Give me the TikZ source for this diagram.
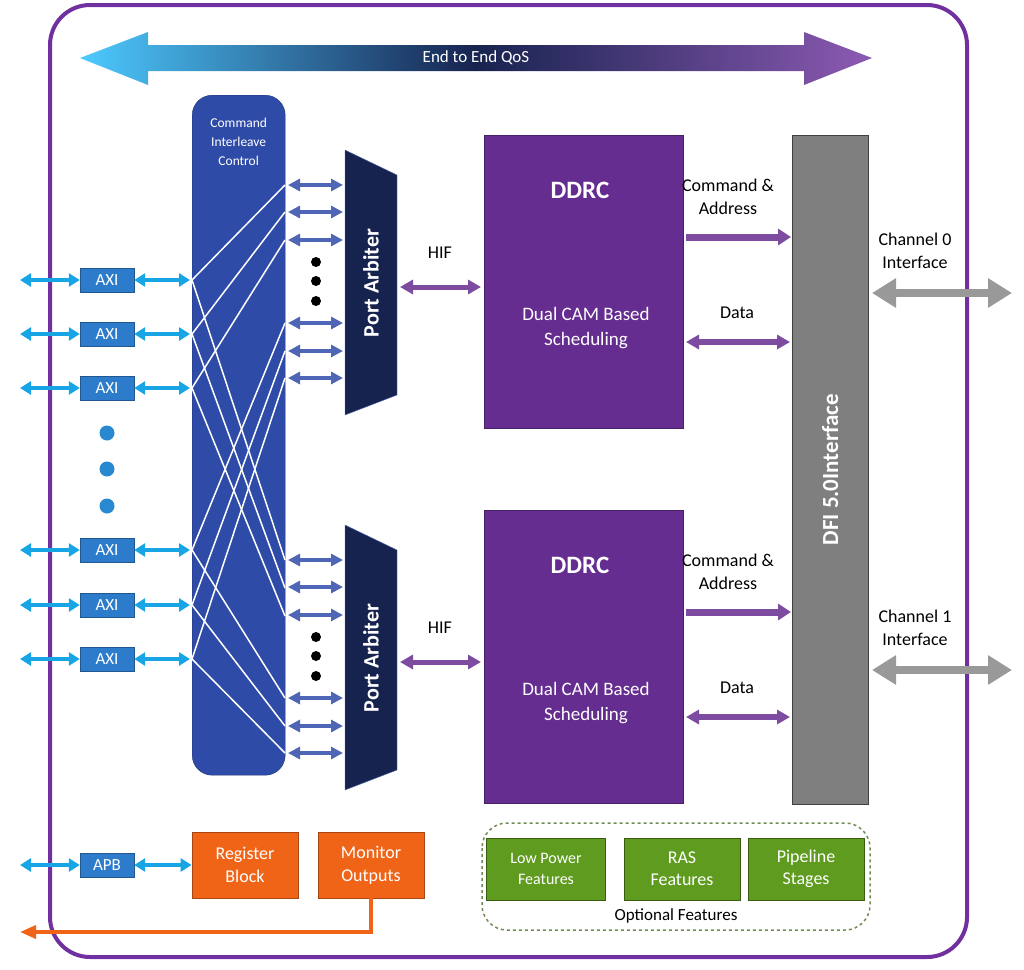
\documentclass[tikz,border=0pt]{standalone}
\usepackage{fontspec}
\setmainfont{Carlito}
\usetikzlibrary{positioning, arrows.meta, shapes, backgrounds, fit}
\definecolor{frame}{HTML}{7030A0}
\definecolor{cicblue}{HTML}{2F4BA8}
\definecolor{navy}{HTML}{17234F}
\definecolor{axiblue}{HTML}{2D7CCB}
\definecolor{cyanarr}{HTML}{17A5E6}
\definecolor{ddrc}{HTML}{662D91}
\definecolor{orng}{HTML}{F06418}
\definecolor{grn}{HTML}{5E9B1E}
\definecolor{dfigray}{HTML}{7F7F7F}
\begin{document}
\begin{tikzpicture}[
    x=1pt, y=-1pt,
    every node/.style={align=center, font=\fontsize{14}{16}\selectfont},
    axi/.style={fill=axiblue, draw=axiblue!70!black, minimum width=54pt, minimum height=24pt, inner sep=0pt, text=white, font=\fontsize{17}{19}\selectfont},
    ddrcbox/.style={fill=ddrc, draw=ddrc!70!black, minimum width=199pt, minimum height=293pt, anchor=north west, inner sep=0pt},
    feature/.style={fill=grn, draw=grn!60!black, thick, minimum width=116pt, minimum height=62pt, text=white, font=\fontsize{17}{21}\selectfont},
    regbox/.style={fill=orng, draw=orng!70!black, thick, minimum width=106pt, minimum height=66pt, text=white, font=\fontsize{18}{23}\selectfont},
    busarrow/.style={{Triangle[width=13pt,length=11pt]}-{Triangle[width=13pt,length=11pt]}, line width=4pt, cyanarr},
    portarrow/.style={{Triangle[width=12pt,length=12pt]}-{Triangle[width=12pt,length=12pt]}, line width=4pt, cicblue!85},
    hifarrow/.style={{Triangle[width=14pt,length=13pt]}-{Triangle[width=14pt,length=13pt]}, line width=5pt, ddrc!85},
    cmdarrow/.style={-{Triangle[width=16pt,length=13pt]}, line width=7pt, ddrc!85},
    chanarrow/.style={{Triangle[width=28pt,length=24pt]}-{Triangle[width=28pt,length=24pt]}, line width=8pt, gray!80},
    cross/.style={white, line width=1.5pt}
]
\useasboundingbox (0,0) rectangle (1024,969);

% Outer frame
\draw[frame, line width=4pt, rounded corners=40pt] (50,5) rectangle (967,957);

% End to end QoS
\shade[left color=cyan!70!blue!70, right color=frame!80!white, middle color=navy]
  (80,58) -- (148,32) -- (148,45) -- (804,45) -- (804,32) -- (872,58)
  -- (804,85) -- (804,71) -- (148,71) -- (148,85) -- cycle;
\node[text=white, font=\fontsize{17}{19}\selectfont] (qos) at (476,58) {End to End QoS};

% Command interleave control
\node[fill=cicblue, draw=cicblue!70!black, rounded corners=20pt, minimum width=93pt, minimum height=680pt, anchor=north west, inner sep=0pt] (cic) at (192,95) {};
\node[text=white, font=\fontsize{13.5}{19}\selectfont, below=20pt of cic.north] {Command\\Interleave\\Control};

% Port arbiters
\foreach \n/\dy in {top/0, bot/375} {
  \fill[navy, draw=cicblue!80] (345,150+\dy) -- (397,175+\dy) -- (397,395+\dy) -- (345,415+\dy) -- cycle;
  \node[rotate=90, text=white, font=\bfseries\fontsize{22}{24}\selectfont] (arb\n) at (371,283+\dy) {Port Arbiter};
  \foreach \y in {185,212,240,323,351,378}
    \draw[portarrow] (288,\y+\dy) -- (343,\y+\dy);
  \foreach \y in {262,281,301}
    \fill (316,\y+\dy) circle (5pt);
}
\coordinate (arbtopin) at (400,287);
\coordinate (arbbotin) at (400,662);

% AXI ports
\foreach \i/\y/\pt/\pb in {1/280/185/560, 2/334/212/588, 3/388/240/616, 4/550/323/698, 5/605/351/726, 6/659/378/753} {
  \node[axi] (axi\i) at (107,\y) {AXI};
  \coordinate (axiL\i) at (20,\y);
  \coordinate (axiR\i) at (190,\y);
  \draw[busarrow] (axiL\i) -- (axi\i);
  \draw[busarrow] (axi\i) -- (axiR\i);
  \draw[cross] (192,\y) -- (285,\pt);
  \draw[cross] (192,\y) -- (285,\pb);
}
\foreach \y in {433,469,506}
  \fill[axiblue!90!cyan] (107,\y) circle (7.5pt);

% DDRC controllers
\foreach \n/\dy in {top/0, bot/375} {
  \node[ddrcbox] (ddrc\n) at (484,135+\dy) {};
  \node[text=white, font=\bfseries\fontsize{25}{27}\selectfont] at (580,190+\dy) {DDRC};
  \node[text=white, font=\fontsize{19}{25}\selectfont] at (586,328+\dy) {Dual CAM Based\\Scheduling};
  \draw[hifarrow] (arb\n in) -- (481,287+\dy);
  \node[font=\fontsize{18}{20}\selectfont] at (440,253+\dy) {HIF};
  \node[font=\fontsize{18}{23}\selectfont] at (728,197+\dy) {Command \&\\Address};
  \draw[cmdarrow] (686,237+\dy) -- (791,237+\dy);
  \node[font=\fontsize{18}{20}\selectfont] at (737,313+\dy) {Data};
  \draw[hifarrow, line width=6pt] (686,342+\dy) -- (790,342+\dy);
}

% DFI interface
\node[fill=dfigray, draw=gray!50!black, minimum width=76pt, minimum height=669pt, anchor=north west, inner sep=0pt] (dfi) at (792,135) {};
\node[rotate=90, text=white, font=\bfseries\fontsize{23}{25}\selectfont] at (dfi.center) {DFI 5.0Interface};
\foreach \c/\dy in {0/0, 1/377} {
  \node[font=\fontsize{18}{23}\selectfont] (ch\c) at (915,251+\dy) {Channel \c\\Interface};
  \draw[chanarrow] (872,293+\dy) -- (1012,293+\dy);
}

% APB and register block
\node[axi] (apb) at (107,865) {APB};
\coordinate (apbL) at (20,865);
\draw[busarrow] (apbL) -- (apb);
\node[regbox] (reg) at (245,865) {Register\\Block};
\draw[busarrow] (apb) -- (reg);
\node[regbox] (mon) at (371,865) {Monitor\\Outputs};
\coordinate (monout) at (20,932);
\draw[orng, line width=3.5pt, -{Triangle[width=13pt,length=16pt]}] (mon.south) |- (monout);

% Optional features
\draw[grn!45!gray, dashed, line width=1.5pt, rounded corners=25pt] (482,823) rectangle (870,930);
\node[feature, font=\fontsize{16}{21}\selectfont, minimum width=119pt] (lowpow) at (546,869) {Low Power\\Features};
\node[feature, font=\fontsize{18}{22}\selectfont] (ras) at (682,869) {RAS\\Features};
\node[feature, font=\fontsize{18}{22}\selectfont] (pipe) at (806,869) {Pipeline\\Stages};
\node[font=\fontsize{17}{19}\selectfont] at (676,916) {Optional Features};

\end{tikzpicture}
\end{document}
